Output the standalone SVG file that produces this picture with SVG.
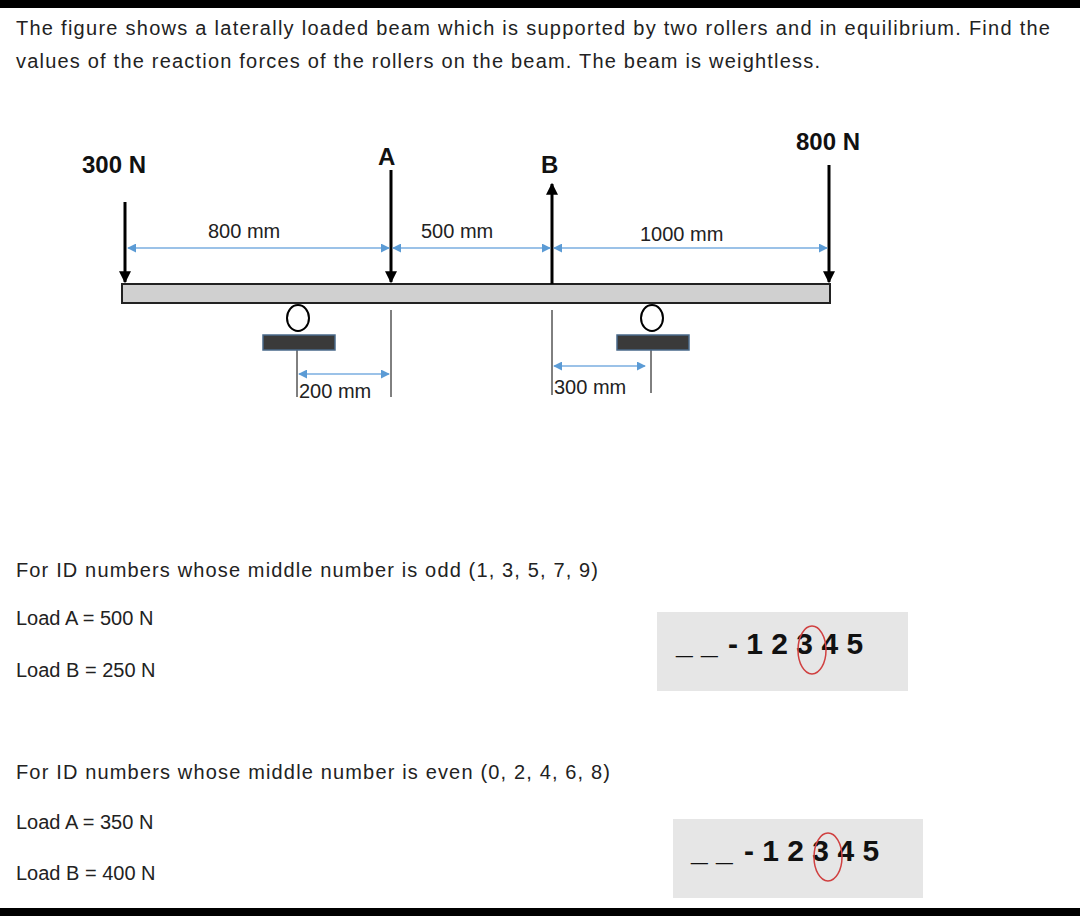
<svg xmlns="http://www.w3.org/2000/svg" width="1080" height="916" viewBox="0 0 1080 916">
<defs>
<style>
.t{font-family:"Liberation Sans",Arial,sans-serif;font-size:20px;fill:#222}
.d{font-family:"Liberation Sans",Arial,sans-serif;font-size:20px;fill:#222}
.b{font-family:"Liberation Sans",Arial,sans-serif;font-size:24px;font-weight:bold;fill:#111}
.f{stroke:#000;stroke-width:3;fill:none}
.dim{stroke:#7aaee0;stroke-width:1.5;fill:none}
.thin{stroke:#000;stroke-width:1;fill:none}
.id{font-family:"Liberation Sans",Arial,sans-serif;font-size:30px;font-weight:bold;fill:#111}
</style>
<marker id="ah" viewBox="0 0 10 10" refX="9" refY="5" markerWidth="4" markerHeight="4" orient="auto"><path d="M0,0L10,5L0,10z" fill="#000"/></marker>
<marker id="bh" viewBox="0 0 10 10" refX="9" refY="5" markerWidth="6" markerHeight="6" orient="auto-start-reverse"><path d="M0,0L10,5L0,10z" fill="#5b9bd5"/></marker>
</defs>
<rect width="1080" height="916" fill="#fff"/>
<rect x="0" y="0" width="1080" height="8" fill="#000"/>
<rect x="0" y="908" width="1080" height="8" fill="#000"/>
<text class="t" x="16" y="35" textLength="1034">The figure shows a laterally loaded beam which is supported by two rollers and in equilibrium. Find the</text>
<text class="t" x="16" y="68" textLength="804">values of the reaction forces of the rollers on the beam. The beam is weightless.</text>
<g id="beam"><rect x="122" y="284" width="708" height="19" fill="#d0d0d0" stroke="#222" stroke-width="2"/></g>
<g id="connectors">
<line class="f" x1="125" y1="202" x2="125" y2="282" marker-end="url(#ah)"/>
<line class="f" x1="391" y1="170" x2="391" y2="282" marker-end="url(#ah)"/>
<line class="f" x1="552" y1="284" x2="552" y2="184" marker-end="url(#ah)"/>
<line class="f" x1="829" y1="165" x2="829" y2="282" marker-end="url(#ah)"/>
<line class="dim" x1="128" y1="248" x2="389" y2="248" marker-start="url(#bh)" marker-end="url(#bh)"/>
<line class="dim" x1="393" y1="248" x2="550" y2="248" marker-start="url(#bh)" marker-end="url(#bh)"/>
<line class="dim" x1="554" y1="248" x2="827" y2="248" marker-start="url(#bh)" marker-end="url(#bh)"/>
<line class="thin" x1="391" y1="310" x2="391" y2="397"/>
<line class="thin" x1="552" y1="310" x2="552" y2="395"/>
<line class="thin" x1="297" y1="350" x2="297" y2="397"/>
<line class="thin" x1="651" y1="350" x2="651" y2="393"/>
<line class="dim" x1="299" y1="374" x2="389" y2="374" marker-start="url(#bh)" marker-end="url(#bh)"/>
<line class="dim" x1="554" y1="366" x2="645" y2="366" marker-start="url(#bh)" marker-end="url(#bh)"/>
</g>
<g id="roller-left"><ellipse cx="298" cy="318" rx="11" ry="13" fill="#fff" stroke="#000" stroke-width="2"/><rect x="263" y="335" width="72" height="15" fill="#3a3a3a" stroke="#4a6a8a" stroke-width="1.5"/></g>
<g id="roller-right"><ellipse cx="652" cy="318" rx="11" ry="13" fill="#fff" stroke="#000" stroke-width="2"/><rect x="617" y="335" width="72" height="15" fill="#3a3a3a" stroke="#4a6a8a" stroke-width="1.5"/></g>
<g id="labels">
<text class="b" x="82" y="173">300 N</text>
<text class="b" x="378" y="165">A</text>
<text class="b" x="541" y="173">B</text>
<text class="b" x="796" y="150">800 N</text>
<text class="d" x="208" y="238">800 mm</text>
<text class="d" x="421" y="238">500 mm</text>
<text class="d" x="640" y="241">1000 mm</text>
<text class="d" x="299" y="398">200 mm</text>
<text class="d" x="554" y="394">300 mm</text>
</g>
<text class="t" x="16" y="577" textLength="582">For ID numbers whose middle number is odd (1, 3, 5, 7, 9)</text>
<text class="t" x="16" y="625">Load A = 500 N</text>
<text class="t" x="16" y="677">Load B = 250 N</text>
<text class="t" x="16" y="779" textLength="594">For ID numbers whose middle number is even (0, 2, 4, 6, 8)</text>
<text class="t" x="16" y="829">Load A = 350 N</text>
<text class="t" x="16" y="880">Load B = 400 N</text>
<g id="id1"><rect x="657" y="612" width="251" height="79" fill="#e6e6e6"/>
<text class="id" x="676" y="654">_ _</text><text class="id" x="728" y="654">- 1 2 3 4 5</text>
<ellipse cx="812" cy="650" rx="14" ry="24" fill="none" stroke="#d04040" stroke-width="1.5"/></g>
<g id="id2"><rect x="673" y="819" width="250" height="79" fill="#e6e6e6"/>
<text class="id" x="691" y="861">_ _</text><text class="id" x="744" y="861">- 1 2 3 4 5</text>
<ellipse cx="828" cy="857" rx="14" ry="24" fill="none" stroke="#d04040" stroke-width="1.5"/></g>
</svg>
